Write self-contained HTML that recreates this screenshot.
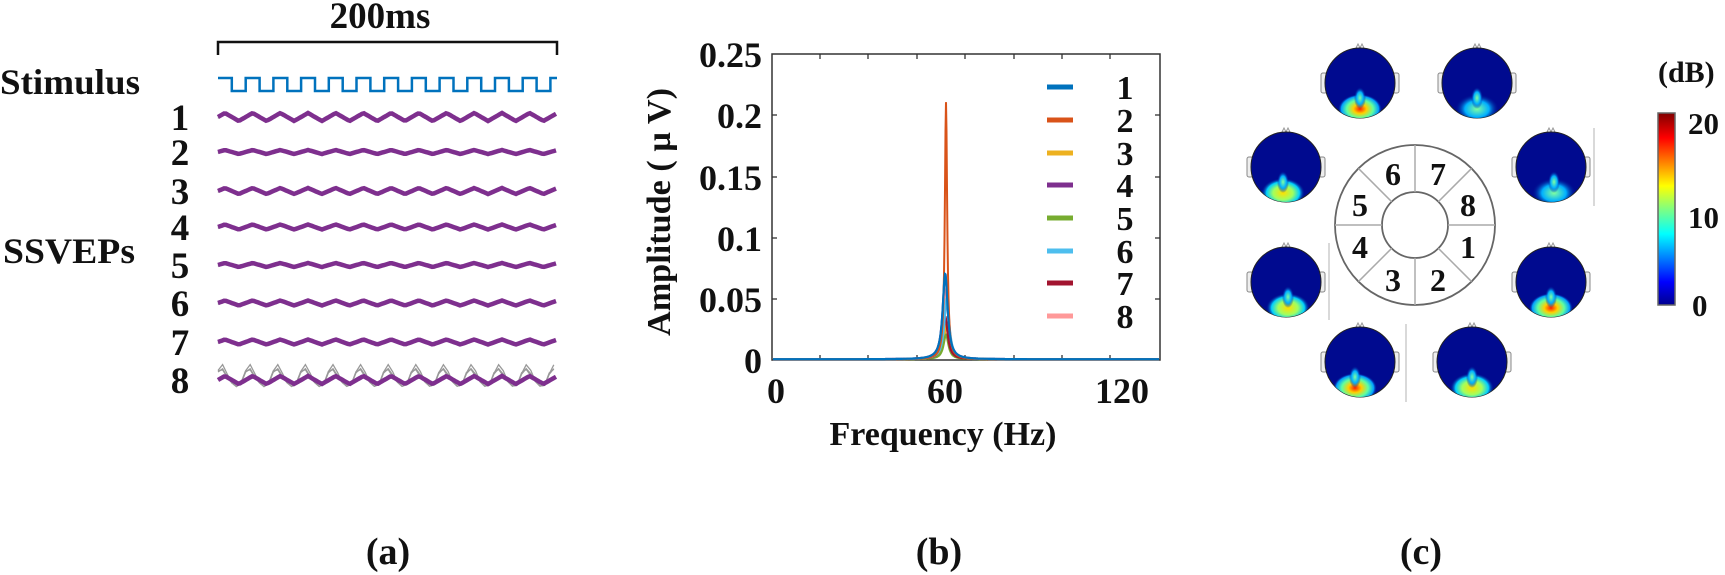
<!DOCTYPE html>
<html><head><meta charset="utf-8">
<style>
html,body{margin:0;padding:0;background:#fff;}
svg{display:block;}
text{font-family:"Liberation Serif",serif;font-weight:bold;fill:#111;}
</style></head>
<body>
<svg id="s" width="1725" height="575" viewBox="0 0 1725 575" xmlns="http://www.w3.org/2000/svg">
<defs>
<radialGradient id="hot" cx="50%" cy="50%" r="50%">
<stop offset="0" stop-color="#ff2000"/><stop offset="0.3" stop-color="#ffd000"/><stop offset="0.6" stop-color="#60ffa0"/><stop offset="0.85" stop-color="#00a0ff"/><stop offset="1" stop-color="#000a8f" stop-opacity="0"/>
</radialGradient>
<radialGradient id="warm" cx="50%" cy="50%" r="50%">
<stop offset="0" stop-color="#ffe000"/><stop offset="0.45" stop-color="#a0ff60"/><stop offset="0.75" stop-color="#00d0ff"/><stop offset="1" stop-color="#000a8f" stop-opacity="0"/>
</radialGradient>
<radialGradient id="cool" cx="50%" cy="50%" r="50%">
<stop offset="0" stop-color="#80ffa0"/><stop offset="0.55" stop-color="#00b0ff"/><stop offset="1" stop-color="#000a8f" stop-opacity="0"/>
</radialGradient>
<linearGradient id="jet" x1="0" y1="1" x2="0" y2="0">
<stop offset="0" stop-color="#00008f"/><stop offset="0.12" stop-color="#0000ff"/><stop offset="0.37" stop-color="#00ffff"/><stop offset="0.5" stop-color="#80ff80"/><stop offset="0.62" stop-color="#ffff00"/><stop offset="0.87" stop-color="#ff0000"/><stop offset="1" stop-color="#800000"/>
</linearGradient>
</defs>

<!-- Panel a -->
<text x="380" y="28" font-size="37" text-anchor="middle">200ms</text>
<path d="M218,55 V42 H557 V55" fill="none" stroke="#111" stroke-width="2.5"/>
<text x="0" y="94" font-size="36" textLength="140" lengthAdjust="spacingAndGlyphs">Stimulus</text>
<text x="3" y="263" font-size="36" textLength="132" lengthAdjust="spacingAndGlyphs">SSVEPs</text>
<g id="stim"></g>
<g id="rows"></g>

<!-- Panel b -->
<g id="pb"></g>
<text x="943" y="445" font-size="34" text-anchor="middle">Frequency (Hz)</text>
<text transform="translate(670,212) rotate(-90)" font-size="34" text-anchor="middle" textLength="248" lengthAdjust="spacingAndGlyphs">Amplitude ( µ V)</text>

<!-- Panel c -->
<g id="heads"></g>
<g stroke="#666" stroke-width="1.8" fill="none">
<circle cx="1415" cy="225" r="80"/>
<circle cx="1415" cy="225" r="33"/>
</g>
<g id="spokes" stroke="#aaa" stroke-width="1.5"></g>
<g font-size="32" text-anchor="middle">
<text x="1393" y="185">6</text><text x="1438" y="185">7</text>
<text x="1360" y="216">5</text><text x="1468" y="216">8</text>
<text x="1360" y="258">4</text><text x="1468" y="258">1</text>
<text x="1393" y="291">3</text><text x="1438" y="291">2</text>
</g>
<g stroke="#ccc" stroke-width="1.5">
<line x1="1594" y1="128" x2="1594" y2="206"/>
<line x1="1329" y1="243" x2="1329" y2="320"/>
<line x1="1406" y1="324" x2="1406" y2="402"/>
</g>
<text x="1658" y="82" font-size="30">(dB)</text>
<rect x="1658" y="113" width="17" height="192" fill="url(#jet)" stroke="#666" stroke-width="1.5"/>
<text x="1688" y="134" font-size="31">20</text>
<text x="1688" y="228" font-size="31">10</text>
<text x="1692" y="316" font-size="31">0</text>

<text x="388" y="564" font-size="38" text-anchor="middle">(a)</text>
<text x="939" y="564" font-size="38" text-anchor="middle">(b)</text>
<text x="1421" y="564" font-size="38" text-anchor="middle">(c)</text>
</svg>
<script>
var NS="http://www.w3.org/2000/svg";
function el(p,t,a){var e=document.createElementNS(NS,t);for(var k in a)e.setAttribute(k,a[k]);p.appendChild(e);return e;}
var g=document.getElementById('stim'),P=27.7,d="M218,78",x=218,hi=true;
while(x<557){var nx=Math.min(x+P/2,557);d+=" H"+nx.toFixed(1);x=nx;if(x<557){d+=" V"+(hi?91:78);hi=!hi;}}
el(g,'path',{d:d,fill:'none',stroke:'#0072bd','stroke-width':2.5});
var rows=[117,152,191,227,265,303,342,380],amps=[4,2,3,2.5,2,2.5,2.5,4];
var R=document.getElementById('rows');
for(var i=0;i<8;i++){
 var y=rows[i];
 el(R,'text',{x:180,y:y+13,'font-size':37,'text-anchor':'middle'}).textContent=(i+1);
 for(var k=0;k<3;k++){
  var dd="";
  for(var xx=218;xx<=557;xx+=4.6){var ph=(xx-218)/P*2*Math.PI;var tri=2/Math.PI*Math.asin(Math.sin(ph));var v;
   if(i==7){v=y-amps[i]*tri-(k==0?11:8)*Math.max(0,Math.sin(ph+0.8+0.2*k))*1.2+4*Math.max(0,-Math.sin(ph+0.8));}
   else v=y-amps[i]*tri+1.5*Math.sin(ph*3+k*2);
   dd+=(dd?"L":"M")+xx.toFixed(1)+","+v.toFixed(1);}
  el(R,'path',{d:dd,fill:'none',stroke:'#999','stroke-width':1.3});
 }
 var dp="";for(var xx=218;xx<=557;xx+=2){var ph=(xx-218)/P*2*Math.PI;var tri=2/Math.PI*Math.asin(Math.sin(ph));dp+=(dp?"L":"M")+xx+","+(y-amps[i]*tri).toFixed(1);}
 el(R,'path',{d:dp,fill:'none',stroke:'#7e2f8e','stroke-width':4.5});
}
var B=document.getElementById('pb');
el(B,'rect',{x:772,y:54,width:388,height:306,fill:'none',stroke:'#333','stroke-width':1.5});
[820,868,917,965,1014,1062,1110].forEach(function(t){el(B,'line',{x1:t,y1:54,x2:t,y2:59,stroke:'#333','stroke-width':1.3});el(B,'line',{x1:t,y1:360,x2:t,y2:355,stroke:'#333','stroke-width':1.3});});
[115,177,238,299].forEach(function(t){el(B,'line',{x1:1160,y1:t,x2:1155,y2:t,stroke:'#333','stroke-width':1.3});el(B,'line',{x1:772,y1:t,x2:777,y2:t,stroke:'#333','stroke-width':1.3});});
var yl=["0.25","0.2","0.15","0.1","0.05","0"],yp=[54,115,177,238,299,360];
for(var i=0;i<6;i++)el(B,'text',{x:762,y:yp[i]+13,'font-size':36,'text-anchor':'end'}).textContent=yl[i];
[["0",776],["60",945],["120",1122]].forEach(function(a){el(B,'text',{x:a[1],y:403,'font-size':36,'text-anchor':'middle'}).textContent=a[0];});
var cols=["#0072bd","#d95319","#edb120","#7e2f8e","#77ac30","#4dbeee","#a2142f","#ff9999"];
var peaks=[0.07,0.21,0.03,0.07,0.02,0.05,0.035,0.057];
var order=[7,2,4,3,6,5,1,0];
order.forEach(function(i){
 var pk=peaks[i],dd="";var c=946+(i%3-1)*0.8;
 for(var xx=773;xx<=1159;xx+=0.5){var dx=xx-c;var v=pk/(1+Math.pow(dx/(i==1?1.4:3),2))+0.0006;var yy=360-v/0.25*306;dd+=(dd?"L":"M")+xx+","+yy.toFixed(1);}
 el(B,'path',{d:dd,fill:'none',stroke:cols[i],'stroke-width':i==1?2:2.2});
});
var ly=[87,120,153,185,218,251,283,316];
for(var i=0;i<8;i++){el(B,'line',{x1:1047,y1:ly[i],x2:1073,y2:ly[i],stroke:cols[i],'stroke-width':5});el(B,'text',{x:1125,y:ly[i]+12,'font-size':34,'text-anchor':'middle'}).textContent=(i+1);}
var S=document.getElementById('spokes');
for(var a=0;a<8;a++){var an=a*Math.PI/4;el(S,'line',{x1:1415+33*Math.cos(an),y1:225+33*Math.sin(an),x2:1415+80*Math.cos(an),y2:225+80*Math.sin(an)});}
var H=document.getElementById('heads');
var hs=[[1360,83,'hot',0],[1477,83,'cool',0],[1286,167,'warm',-3],[1551,167,'cool',3],[1286,282,'warm',2],[1551,282,'hot',0],[1360,362,'hot',-5],[1472,362,'warm',0]];
hs.forEach(function(h,i){
 var cx=h[0],cy=h[1],r=35,o=h[3];
 el(H,'rect',{x:cx-r-4,y:cy-10,width:6,height:20,rx:2,fill:'#eee',stroke:'#888','stroke-width':1});
 el(H,'rect',{x:cx+r-2,y:cy-10,width:6,height:20,rx:2,fill:'#eee',stroke:'#888','stroke-width':1});
 el(H,'path',{d:"M"+(cx-4)+","+(cy-r)+" l2,-4 l2,4 l2,-4 l2,4",fill:'none',stroke:'#999','stroke-width':1});
 var cp=el(H,'clipPath',{id:'c'+i});el(cp,'circle',{cx:cx,cy:cy,r:r});
 el(H,'circle',{cx:cx,cy:cy,r:r,fill:'#000a8f',stroke:'#222','stroke-width':1});
 var gg=el(H,'g',{'clip-path':'url(#c'+i+')'});
 el(gg,'ellipse',{cx:cx+o,cy:cy+r-9,rx:22,ry:15,fill:'url(#'+h[2]+')'});
 el(gg,'ellipse',{cx:cx+o,cy:cy+r-20,rx:6,ry:11,fill:'url(#cool)'});
});
</script>
</body></html>
